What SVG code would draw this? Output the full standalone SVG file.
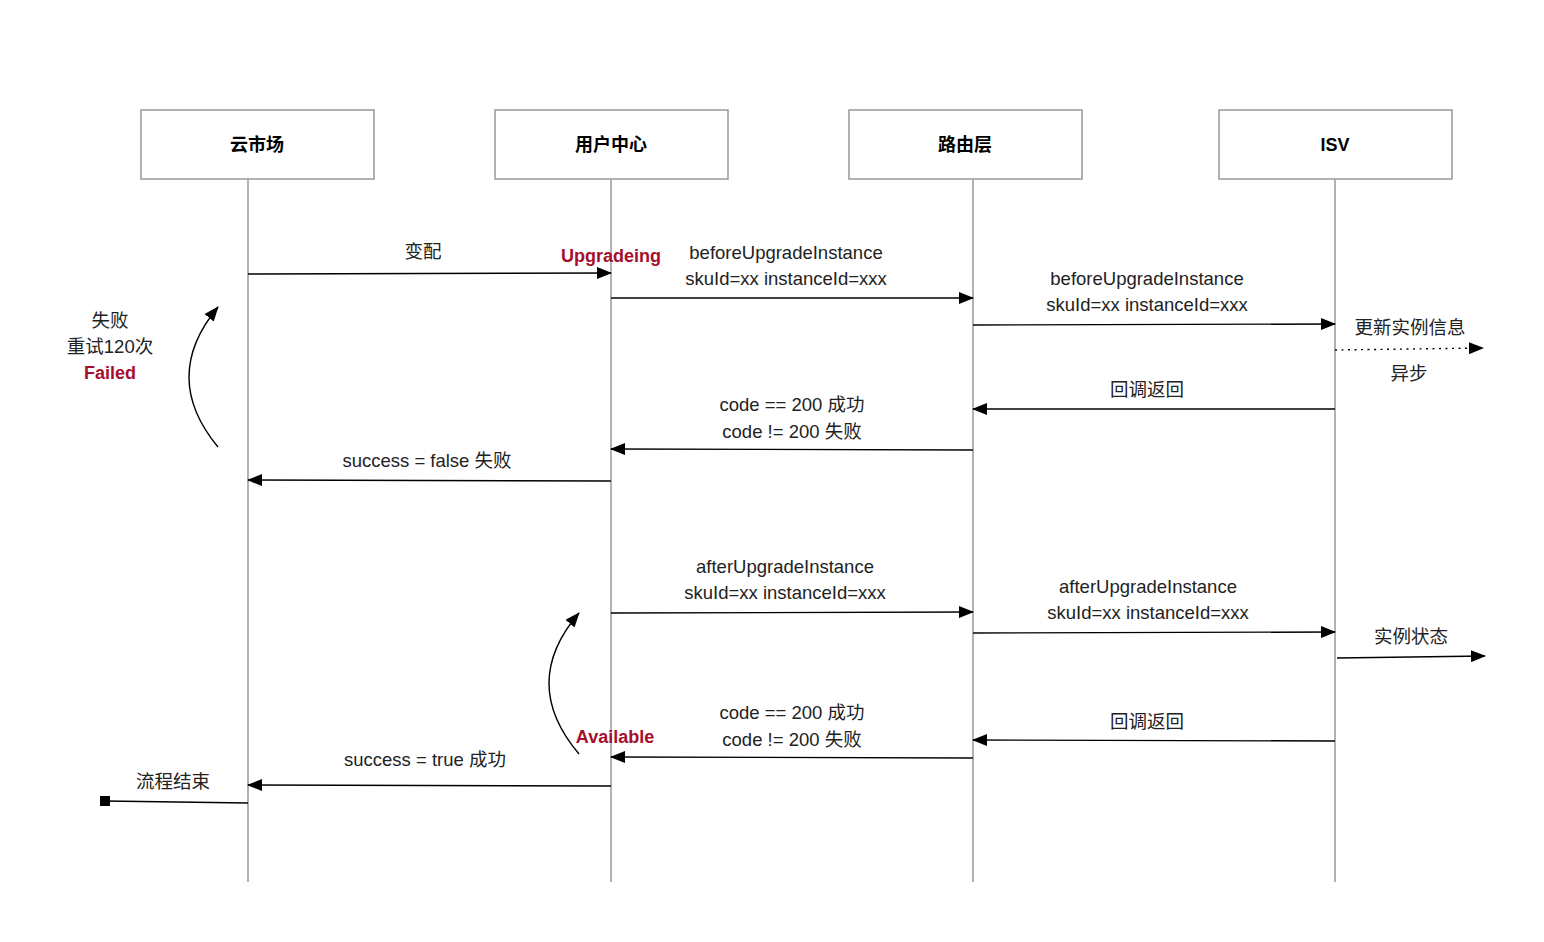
<svg xmlns="http://www.w3.org/2000/svg" width="1544" height="942" viewBox="0 0 1544 942">
<style>
text{font-family:"Liberation Sans","Noto Sans CJK SC",sans-serif;font-size:18.5px;fill:#222;text-anchor:middle}
.t{font-weight:bold;fill:#000;font-size:18px}
.r{font-weight:bold;fill:#A50F2D;font-size:18px}
.box{fill:#fff;stroke:#999;stroke-width:1.5}
.life{stroke:#999;stroke-width:1.5;fill:none}
.m{stroke:#000;stroke-width:1.4;fill:none;marker-end:url(#ah)}
.d{stroke-dasharray:2,4.5}
</style>
<defs>
<marker id="ah" markerWidth="15" markerHeight="12" refX="14" refY="6" orient="auto" markerUnits="userSpaceOnUse">
<path d="M0,0 L15,6 L0,12 Z" fill="#000"/>
</marker>
<marker id="sq" markerWidth="10" markerHeight="10" refX="5" refY="5" orient="auto" markerUnits="userSpaceOnUse">
<rect x="0" y="0" width="10" height="10" fill="#000"/>
</marker>
</defs>
<rect width="1544" height="942" fill="#fff"/>
<g id="n-yunshichang">
<line class="life" x1="248" y1="179" x2="248" y2="882"/>
<rect class="box" x="141" y="110" width="233" height="69"/>
<text class="t" x="257" y="151">云市场</text>
</g>
<g id="n-yonghuzhongxin">
<line class="life" x1="611" y1="179" x2="611" y2="882"/>
<rect class="box" x="495" y="110" width="233" height="69"/>
<text class="t" x="611" y="151">用户中心</text>
</g>
<g id="n-luyouceng">
<line class="life" x1="973" y1="179" x2="973" y2="882"/>
<rect class="box" x="849" y="110" width="233" height="69"/>
<text class="t" x="965" y="151">路由层</text>
</g>
<g id="n-isv">
<line class="life" x1="1335" y1="179" x2="1335" y2="882"/>
<rect class="box" x="1219" y="110" width="233" height="69"/>
<text class="t" x="1335" y="151">ISV</text>
</g>
<g id="connectors">
<path class="m" d="M248,274 L611,273"/>
<path class="m" d="M611,298 L973,298"/>
<path class="m" d="M973,325 L1335,324"/>
<path class="m d" d="M1335,350 L1483,348"/>
<path class="m" d="M1335,409 L973,409"/>
<path class="m" d="M973,450 L611,449"/>
<path class="m" d="M611,481 L248,480"/>
<path class="m" d="M218,447 Q160,377 218,307"/>
<path class="m" d="M611,613 L973,612"/>
<path class="m" d="M973,633 L1335,632"/>
<path class="m" d="M1337,658 L1485,656"/>
<path class="m" d="M1335,741 L973,740"/>
<path class="m" d="M973,758 L611,757"/>
<path class="m" d="M611,786 L248,785"/>
<path d="M248,803 L105,801" stroke="#000" stroke-width="1.4" fill="none" marker-end="url(#sq)"/>
<path class="m" d="M579,754 Q519,683 579,613"/>
</g>
<g id="labels">
<text x="423" y="258">变配</text>
<text class="r" x="611" y="262">Upgradeing</text>
<text x="786" y="259">beforeUpgradeInstance</text>
<text x="786" y="285">skuId=xx instanceId=xxx</text>
<text x="1147" y="285">beforeUpgradeInstance</text>
<text x="1147" y="311">skuId=xx instanceId=xxx</text>
<text x="1410" y="334">更新实例信息</text>
<text x="1409" y="380">异步</text>
<text x="1147" y="396">回调返回</text>
<text x="792" y="411">code == 200 成功</text>
<text x="792" y="438">code != 200 失败</text>
<text x="427" y="467">success = false 失败</text>
<text x="110" y="327">失败</text>
<text x="110" y="353">重试120次</text>
<text class="r" x="110" y="379">Failed</text>
<text x="785" y="573">afterUpgradeInstance</text>
<text x="785" y="599">skuId=xx instanceId=xxx</text>
<text x="1148" y="593">afterUpgradeInstance</text>
<text x="1148" y="619">skuId=xx instanceId=xxx</text>
<text x="1411" y="643">实例状态</text>
<text x="1147" y="728">回调返回</text>
<text x="792" y="719">code == 200 成功</text>
<text x="792" y="746">code != 200 失败</text>
<text class="r" x="615" y="743">Available</text>
<text x="425" y="766">success = true 成功</text>
<text x="173" y="788">流程结束</text>
</g>
</svg>
